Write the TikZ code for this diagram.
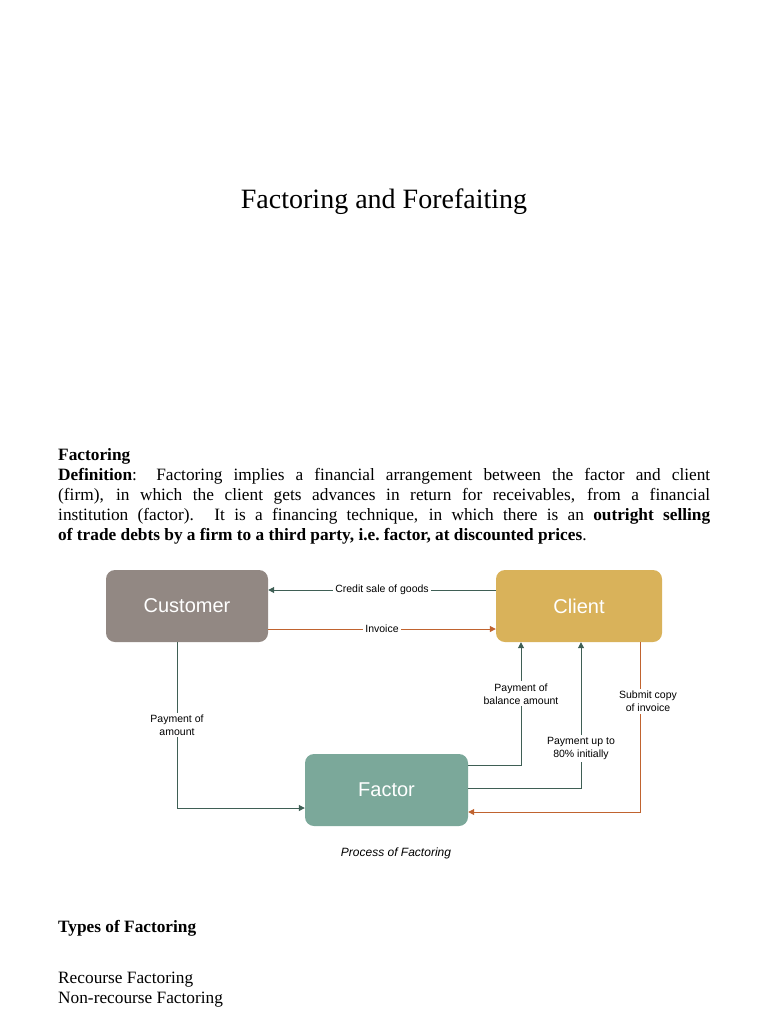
\documentclass[tikz,border=0pt]{standalone}
\usepackage{fontspec}
\setmainfont{Liberation Serif}
\newfontfamily\dsans{Liberation Sans}
\usetikzlibrary{arrows.meta}
\definecolor{cgray}{HTML}{928883}
\definecolor{cgold}{HTML}{D9B25A}
\definecolor{cteal}{HTML}{7BA89A}
\definecolor{lgreen}{HTML}{3F5F55}
\definecolor{lorange}{HTML}{C0632F}
\begin{document}
\begin{tikzpicture}[x=1pt,y=-1pt,
  box/.style={rounded corners=9pt,minimum width=162pt,minimum height=72pt,inner sep=0pt,text=white,font=\dsans\fontsize{20}{22}\selectfont},
  gl/.style={draw=lgreen,line width=1pt},
  ol/.style={draw=lorange,line width=1pt},
  tip/.style={-{Triangle[length=6pt,width=6pt]}},
  lab/.style={fill=white,font=\dsans\fontsize{10.5}{13}\selectfont,align=center,inner sep=2pt},
  body/.style={anchor=north west,inner sep=0pt,font=\fontsize{17.3}{20}\selectfont}]
\useasboundingbox (0,0) rectangle (768,1024);
\node (title) at (384,202) {\fontsize{28}{32}\selectfont Factoring and Forefaiting};
\node[body] (h1) at (58,448) {\textbf{Factoring}};
\node[body,text width=652pt,align=justify] (par) at (58,468) {\textbf{Definition}: Factoring implies a financial arrangement between the factor and client\linebreak (firm), in which the client gets advances in return for receivables, from a financial\linebreak institution (factor). It is a financing technique, in which there is an \textbf{outright selling}\linebreak\textbf{of trade debts by a firm to a third party, i.e.\ factor, at discounted prices}.};
\node[box,fill=cgray] (cust) at (187,606) {Customer};
\node[box,fill=cgold,minimum width=166pt] (cli) at (579,606) {Client};
\node[box,fill=cteal,minimum width=163pt] (fac) at (386.5,790) {Factor};
\draw[gl,tip] (cli.west|-0,590) -- node[lab]{Credit sale of goods} (cust.east|-0,590);
\draw[ol,tip] (cust.east|-0,629) -- node[lab,pos=0.5]{Invoice} (cli.west|-0,629);
\draw[gl,tip] (cust.south-|177,0) -- node[lab,pos=0.5]{Payment of\\amount} (177,808) -- (fac.west|-0,808);
\draw[gl,tip] (fac.east|-0,765) -- (521,765) -- node[lab,pos=0.58]{Payment of\\balance amount} (cli.south-|521,0);
\draw[gl,tip] (fac.east|-0,788) -- (581,788) -- node[lab,pos=0.27]{Payment up to\\80\% initially} (cli.south-|581,0);
\draw[ol,tip] (cli.south-|640,0) -- node[lab,pos=0.35,xshift=8pt]{Submit copy\\of invoice} (640,812) -- (fac.east|-0,812);
\node (cap) at (396,853) {\dsans\itshape\fontsize{12}{14}\selectfont Process of Factoring};
\node[body] (h2) at (58,920) {\textbf{Types of Factoring}};
\node[body,align=left] (list) at (58,972) {Recourse Factoring\\Non-recourse Factoring};
\end{tikzpicture}
\end{document}
